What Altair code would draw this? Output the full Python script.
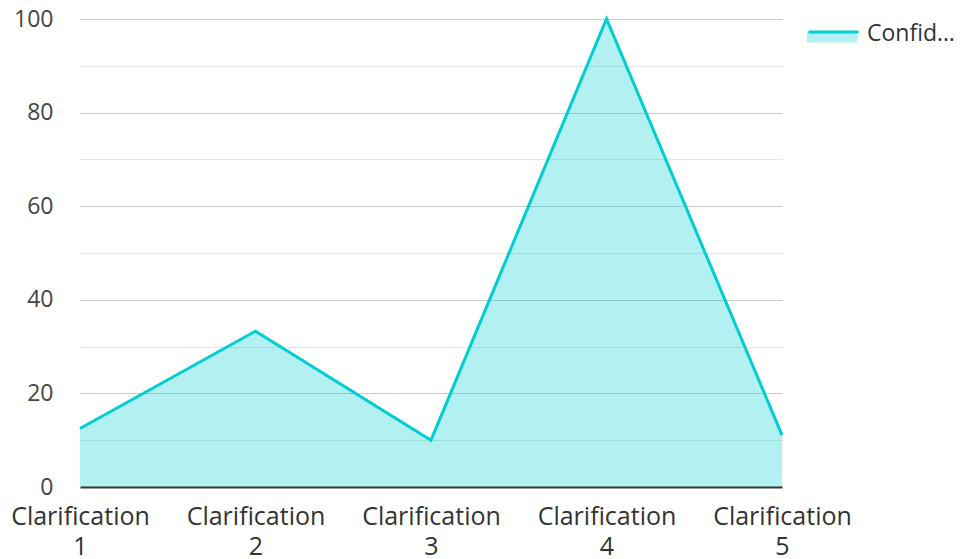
import altair as alt
import pandas as pd

categories = ["Clarification 1", "Clarification 2", "Clarification 3", "Clarification 4", "Clarification 5"]
values = [12.5, 33.3, 10.0, 100.0, 11.1]
series_name = "Confidence Score"

df = pd.DataFrame({"cat": categories, "value": values, "series": [series_name] * len(categories)})

FONT = "Open Sans"
LINE = "#00CED1"

x = alt.X("cat:N", sort=categories, title=None,
          scale=alt.Scale(type="point", padding=0),
          axis=alt.Axis(labelAngle=0, labelExpr="split(datum.label, ' ')", labelLineHeight=30,
                        labelPadding=17, labelFontSize=25, labelColor="#333", labelFont=FONT,
                        ticks=False, domainColor="#333", domainWidth=2, grid=False, labelLimit=300,
                        zindex=1))
y = alt.Y("value:Q", title=None, scale=alt.Scale(domain=[0, 100], nice=False),
          axis=alt.Axis(values=[0, 10, 20, 30, 40, 50, 60, 70, 80, 90, 100],
                        labelExpr="datum.value % 20 === 0 ? datum.label : ''",
                        labelFontSize=23, labelColor="#444", labelFont=FONT, labelPadding=27,
                        ticks=False, domain=False,
                        gridColor={"condition": {"test": "datum.value % 20 !== 0", "value": "#e6e6e6"}, "value": "#c8c8c8"},
                        gridWidth=1))

area = alt.Chart(df).mark_area(fillOpacity=0.3).encode(
    x=x, y=y,
    fill=alt.Fill("series:N", scale=alt.Scale(range=[LINE]),
                  legend=alt.Legend(title=None, orient="none", legendX=727, legendY=-12,
                                    symbolType="M-1,0 L1,0 L1,0.42 L-1,0.42 Z", symbolSize=2500,
                                    symbolOpacity=0.3, symbolStrokeWidth=0, labelOpacity=0,
                                    labelFontSize=23, labelFont=FONT, labelOffset=7,
                                    labelLimit=92, padding=0)),
)
line = alt.Chart(df).mark_line(strokeWidth=3).encode(
    x=x, y=y,
    stroke=alt.Stroke("series:N", scale=alt.Scale(range=[LINE]),
                      legend=alt.Legend(title=None, orient="none", legendX=727, legendY=-12,
                                        symbolType="M-1,-0.06 L1,-0.06", symbolSize=2500,
                                        symbolStrokeWidth=3, symbolFillColor="transparent",
                                        labelFontSize=23, labelFont=FONT, labelColor="#333",
                                        labelOffset=7, labelLimit=92, padding=0)),
)

chart = alt.layer(area, line).properties(
    width=702, height=468,
    autosize=alt.AutoSizeParams(type="none"),
    padding={"left": 72, "top": 11, "right": 174, "bottom": 72},
).configure(background="white").configure_view(strokeWidth=0, stroke="transparent")

chart.save("out.html", embed_options={"renderer": "svg", "actions": False})
